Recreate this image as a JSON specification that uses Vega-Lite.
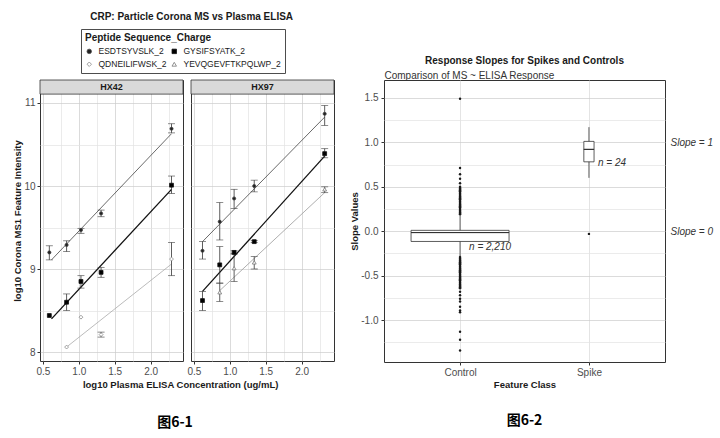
{
  "$schema": "https://vega.github.io/schema/vega-lite/v6.json",
  "padding": {"left": 12, "top": 12, "right": 2, "bottom": 0},
  "config": {
    "font": "Liberation Sans",
    "view": {"stroke": "#333333", "strokeWidth": 1},
    "axis": {
      "labelFontSize": 10, "labelColor": "#4d4d4d", "labelFlush": false,
      "titleFontSize": 9.5, "titleFontWeight": "bold", "titleColor": "#1a1a1a",
      "tickColor": "#333333", "tickSize": 3, "domain": false, "labelPadding": 2
    },
    "title": {"fontSize": 10, "fontWeight": "bold", "color": "#1a1a1a", "anchor": "middle"},
    "legend": {
      "orient": "none", "legendX": 41, "legendY": -51,
      "direction": "horizontal", "columns": 2, "titleOrient": "top",
      "strokeColor": "#4d4d4d", "padding": 4,
      "titleFontSize": 10, "titleFontWeight": "bold", "titleColor": "#1a1a1a",
      "labelFontSize": 8.5, "labelColor": "#1a1a1a", "labelOffset": 5,
      "symbolSize": 20, "symbolStrokeWidth": 0.8,
      "columnPadding": 3, "rowPadding": 4, "titlePadding": 4
    }
  },
  "datasets": {
    "means": [
      {"panel": "HX42", "peptide": "ESDTSYVSLK_2", "x": 0.59, "y": 9.20, "lo": 9.11, "hi": 9.28},
      {"panel": "HX42", "peptide": "ESDTSYVSLK_2", "x": 0.83, "y": 9.29, "lo": 9.21, "hi": 9.34},
      {"panel": "HX42", "peptide": "ESDTSYVSLK_2", "x": 1.03, "y": 9.47, "lo": 9.43, "hi": 9.49},
      {"panel": "HX42", "peptide": "ESDTSYVSLK_2", "x": 1.31, "y": 9.67, "lo": 9.63, "hi": 9.71},
      {"panel": "HX42", "peptide": "ESDTSYVSLK_2", "x": 2.29, "y": 10.69, "lo": 10.64, "hi": 10.75},
      {"panel": "HX42", "peptide": "GYSIFSYATK_2", "x": 0.59, "y": 8.44, "lo": null, "hi": null},
      {"panel": "HX42", "peptide": "GYSIFSYATK_2", "x": 0.83, "y": 8.60, "lo": 8.50, "hi": 8.70},
      {"panel": "HX42", "peptide": "GYSIFSYATK_2", "x": 1.03, "y": 8.85, "lo": 8.77, "hi": 8.92},
      {"panel": "HX42", "peptide": "GYSIFSYATK_2", "x": 1.31, "y": 8.96, "lo": 8.90, "hi": 9.02},
      {"panel": "HX42", "peptide": "GYSIFSYATK_2", "x": 2.29, "y": 10.01, "lo": 9.91, "hi": 10.12},
      {"panel": "HX42", "peptide": "QDNEILIFWSK_2", "x": 0.83, "y": 8.06, "lo": null, "hi": null},
      {"panel": "HX42", "peptide": "QDNEILIFWSK_2", "x": 1.03, "y": 8.42, "lo": null, "hi": null},
      {"panel": "HX42", "peptide": "QDNEILIFWSK_2", "x": 1.31, "y": 8.21, "lo": 8.18, "hi": 8.24},
      {"panel": "HX42", "peptide": "QDNEILIFWSK_2", "x": 2.29, "y": 9.12, "lo": 8.92, "hi": 9.32},
      {"panel": "HX97", "peptide": "ESDTSYVSLK_2", "x": 0.62, "y": 9.22, "lo": 9.12, "hi": 9.33},
      {"panel": "HX97", "peptide": "ESDTSYVSLK_2", "x": 0.86, "y": 9.57, "lo": 9.35, "hi": 9.80},
      {"panel": "HX97", "peptide": "ESDTSYVSLK_2", "x": 1.06, "y": 9.85, "lo": 9.73, "hi": 9.96},
      {"panel": "HX97", "peptide": "ESDTSYVSLK_2", "x": 1.34, "y": 10.00, "lo": 9.93, "hi": 10.07},
      {"panel": "HX97", "peptide": "ESDTSYVSLK_2", "x": 2.32, "y": 10.87, "lo": 10.73, "hi": 10.97},
      {"panel": "HX97", "peptide": "GYSIFSYATK_2", "x": 0.62, "y": 8.62, "lo": 8.50, "hi": 8.73},
      {"panel": "HX97", "peptide": "GYSIFSYATK_2", "x": 0.86, "y": 9.05, "lo": 8.83, "hi": 9.27},
      {"panel": "HX97", "peptide": "GYSIFSYATK_2", "x": 1.06, "y": 9.20, "lo": 9.18, "hi": 9.22},
      {"panel": "HX97", "peptide": "GYSIFSYATK_2", "x": 1.34, "y": 9.33, "lo": 9.32, "hi": 9.345},
      {"panel": "HX97", "peptide": "GYSIFSYATK_2", "x": 2.32, "y": 10.39, "lo": 10.34, "hi": 10.45},
      {"panel": "HX97", "peptide": "YEVQGEVFTKPQLWP_2", "x": 0.86, "y": 8.72, "lo": 8.61, "hi": 8.83},
      {"panel": "HX97", "peptide": "YEVQGEVFTKPQLWP_2", "x": 1.06, "y": 9.01, "lo": 8.85, "hi": 9.19},
      {"panel": "HX97", "peptide": "YEVQGEVFTKPQLWP_2", "x": 1.34, "y": 9.08, "lo": 9.00, "hi": 9.15},
      {"panel": "HX97", "peptide": "YEVQGEVFTKPQLWP_2", "x": 2.32, "y": 9.96, "lo": 9.92, "hi": 9.99}
    ],
    "fits": [
      {"panel": "HX42", "peptide": "ESDTSYVSLK_2", "x": 0.62, "y": 9.11},
      {"panel": "HX42", "peptide": "ESDTSYVSLK_2", "x": 2.29, "y": 10.63},
      {"panel": "HX42", "peptide": "GYSIFSYATK_2", "x": 0.62, "y": 8.40},
      {"panel": "HX42", "peptide": "GYSIFSYATK_2", "x": 2.29, "y": 9.96},
      {"panel": "HX42", "peptide": "QDNEILIFWSK_2", "x": 0.83, "y": 8.06},
      {"panel": "HX42", "peptide": "QDNEILIFWSK_2", "x": 2.29, "y": 9.06},
      {"panel": "HX97", "peptide": "ESDTSYVSLK_2", "x": 0.62, "y": 9.33},
      {"panel": "HX97", "peptide": "ESDTSYVSLK_2", "x": 2.32, "y": 10.83},
      {"panel": "HX97", "peptide": "GYSIFSYATK_2", "x": 0.62, "y": 8.73},
      {"panel": "HX97", "peptide": "GYSIFSYATK_2", "x": 2.32, "y": 10.36},
      {"panel": "HX97", "peptide": "YEVQGEVFTKPQLWP_2", "x": 0.86, "y": 8.74},
      {"panel": "HX97", "peptide": "YEVQGEVFTKPQLWP_2", "x": 2.32, "y": 9.92}
    ],
    "strips": [{"panel": "HX42"}, {"panel": "HX97"}],
    "captions": [{"side": "left", "caption": "图6-1"}, {"side": "right", "caption": "图6-2"}],
    "boxes": [
      {"class": "Control", "lw": -0.29, "q1": -0.115, "median": -0.015, "q3": 0.01, "uw": 0.18, "n": 2210, "label": "n = 2,210"},
      {"class": "Spike", "lw": 0.60, "q1": 0.78, "median": 0.92, "q3": 1.01, "uw": 1.17, "n": 24, "label": "n = 24"}
    ],
    "outliers": [
      {"class": "Control", "slope": 1.49}, {"class": "Control", "slope": 0.71}, {"class": "Control", "slope": 0.64},
      {"class": "Control", "slope": 0.59}, {"class": "Control", "slope": 0.54}, {"class": "Control", "slope": 0.50},
      {"class": "Control", "slope": 0.49}, {"class": "Control", "slope": 0.48}, {"class": "Control", "slope": 0.47},
      {"class": "Control", "slope": 0.46}, {"class": "Control", "slope": 0.45}, {"class": "Control", "slope": 0.44},
      {"class": "Control", "slope": 0.43}, {"class": "Control", "slope": 0.42}, {"class": "Control", "slope": 0.41},
      {"class": "Control", "slope": 0.40}, {"class": "Control", "slope": 0.39}, {"class": "Control", "slope": 0.38},
      {"class": "Control", "slope": 0.37}, {"class": "Control", "slope": 0.36}, {"class": "Control", "slope": 0.35},
      {"class": "Control", "slope": 0.34}, {"class": "Control", "slope": 0.33}, {"class": "Control", "slope": 0.32},
      {"class": "Control", "slope": 0.31}, {"class": "Control", "slope": 0.30}, {"class": "Control", "slope": 0.29},
      {"class": "Control", "slope": 0.28}, {"class": "Control", "slope": 0.27}, {"class": "Control", "slope": 0.26},
      {"class": "Control", "slope": 0.25}, {"class": "Control", "slope": 0.24}, {"class": "Control", "slope": 0.23},
      {"class": "Control", "slope": 0.22}, {"class": "Control", "slope": 0.21}, {"class": "Control", "slope": 0.20},
      {"class": "Control", "slope": 0.19},
      {"class": "Control", "slope": -0.29}, {"class": "Control", "slope": -0.30}, {"class": "Control", "slope": -0.31},
      {"class": "Control", "slope": -0.32}, {"class": "Control", "slope": -0.33}, {"class": "Control", "slope": -0.34},
      {"class": "Control", "slope": -0.35}, {"class": "Control", "slope": -0.36}, {"class": "Control", "slope": -0.37},
      {"class": "Control", "slope": -0.38}, {"class": "Control", "slope": -0.39}, {"class": "Control", "slope": -0.40},
      {"class": "Control", "slope": -0.41}, {"class": "Control", "slope": -0.42}, {"class": "Control", "slope": -0.43},
      {"class": "Control", "slope": -0.44}, {"class": "Control", "slope": -0.45}, {"class": "Control", "slope": -0.46},
      {"class": "Control", "slope": -0.47}, {"class": "Control", "slope": -0.48}, {"class": "Control", "slope": -0.49},
      {"class": "Control", "slope": -0.50}, {"class": "Control", "slope": -0.51}, {"class": "Control", "slope": -0.52},
      {"class": "Control", "slope": -0.53}, {"class": "Control", "slope": -0.54}, {"class": "Control", "slope": -0.55},
      {"class": "Control", "slope": -0.56}, {"class": "Control", "slope": -0.57}, {"class": "Control", "slope": -0.58},
      {"class": "Control", "slope": -0.59}, {"class": "Control", "slope": -0.60}, {"class": "Control", "slope": -0.61},
      {"class": "Control", "slope": -0.62}, {"class": "Control", "slope": -0.63}, {"class": "Control", "slope": -0.64},
      {"class": "Control", "slope": -0.68}, {"class": "Control", "slope": -0.72}, {"class": "Control", "slope": -0.76},
      {"class": "Control", "slope": -0.79}, {"class": "Control", "slope": -0.85}, {"class": "Control", "slope": -0.89},
      {"class": "Control", "slope": -0.91}, {"class": "Control", "slope": -1.13}, {"class": "Control", "slope": -1.22},
      {"class": "Control", "slope": -1.34},
      {"class": "Spike", "slope": -0.03}
    ]
  },
  "spacing": 14,
  "hconcat": [
    {
      "spacing": 20,
      "vconcat": [
        {
          "title": {"text": "CRP: Particle Corona MS vs Plasma ELISA", "anchor": "middle", "offset": 57, "dx": 18},
          "vconcat": [
            {
              "title": {"text": "log10 Plasma ELISA Concentration (ug/mL)", "orient": "bottom", "anchor": "middle", "fontSize": 9.5, "offset": 3, "dx": 7},
              "spacing": 2,
              "hconcat": [
                {
                  "width": 143, "height": 281,
                  "resolve": {"axis": {"x": "independent", "y": "independent"}},
                  "layer": [
                    {
                      "data": {"name": "fits"},
                      "transform": [{"filter": "datum.panel == 'HX42'"}],
                      "mark": {"type": "line"},
                      "encoding": {
                        "x": {"field": "x", "type": "quantitative", "scale": {"domain": [0.46, 2.45], "nice": false, "zero": false},
                          "axis": {"title": null, "values": [0.5, 0.75, 1, 1.25, 1.5, 1.75, 2, 2.25],
                            "labelExpr": "abs(datum.value * 2 - round(datum.value * 2)) < 0.001 ? format(datum.value, '.1f') : ''",
                            "tickOpacity": {"condition": {"test": "abs(datum.value * 2 - round(datum.value * 2)) > 0.001", "value": 0}, "value": 1},
                            "gridColor": {"condition": {"test": "abs(datum.value * 2 - round(datum.value * 2)) > 0.001", "value": "#e3e3e3"}, "value": "#cccccc"},
                            "gridWidth": 0.7}},
                        "y": {"field": "y", "type": "quantitative", "scale": {"domain": [7.892, 11.277], "nice": false, "zero": false},
                          "axis": {"title": "log10 Corona MS1 Feature Intensity", "titlePadding": 1, "values": [8, 8.5, 9, 9.5, 10, 10.5, 11],
                            "labelExpr": "datum.value % 1 == 0 ? format(datum.value, 'd') : ''",
                            "tickOpacity": {"condition": {"test": "datum.value % 1 != 0", "value": 0}, "value": 1},
                            "gridColor": {"condition": {"test": "datum.value % 1 != 0", "value": "#e3e3e3"}, "value": "#cccccc"},
                            "gridWidth": 0.7}},
                        "detail": {"field": "peptide"},
                        "stroke": {"condition": [
                          {"test": "datum.peptide == 'GYSIFSYATK_2'", "value": "#111111"},
                          {"test": "datum.peptide == 'QDNEILIFWSK_2'", "value": "#aaaaaa"},
                          {"test": "datum.peptide == 'YEVQGEVFTKPQLWP_2'", "value": "#999999"}], "value": "#444444"},
                        "strokeWidth": {"condition": {"test": "datum.peptide == 'GYSIFSYATK_2'", "value": 1.3}, "value": 0.8}
                      }
                    },
                    {
                      "data": {"name": "means"},
                      "transform": [{"filter": "datum.panel == 'HX42'"}],
                      "mark": {"type": "errorbar", "ticks": true, "size": 7, "thickness": 0.8, "color": "#333333"},
                      "encoding": {
                        "x": {"field": "x", "type": "quantitative", "axis": null},
                        "y": {"field": "lo", "type": "quantitative", "axis": null},
                        "y2": {"field": "hi"}
                      }
                    },
                    {
                      "data": {"name": "means"},
                      "transform": [{"filter": "datum.panel == 'HX42'"}],
                      "mark": {"type": "point", "opacity": 1, "strokeWidth": 0.8},
                      "encoding": {
                        "x": {"field": "x", "type": "quantitative", "axis": null},
                        "y": {"field": "y", "type": "quantitative", "axis": null},
                        "fill": {"field": "peptide", "type": "nominal", "title": "Peptide Sequence_Charge",
                          "scale": {"domain": ["ESDTSYVSLK_2", "GYSIFSYATK_2", "QDNEILIFWSK_2", "YEVQGEVFTKPQLWP_2"], "range": ["#222222", "#000000", "#ffffff", "#ffffff"]}},
                        "stroke": {"field": "peptide", "type": "nominal", "title": "Peptide Sequence_Charge",
                          "scale": {"domain": ["ESDTSYVSLK_2", "GYSIFSYATK_2", "QDNEILIFWSK_2", "YEVQGEVFTKPQLWP_2"], "range": ["#444444", "#111111", "#888888", "#777777"]}},
                        "shape": {"field": "peptide", "type": "nominal", "title": "Peptide Sequence_Charge",
                          "scale": {"domain": ["ESDTSYVSLK_2", "GYSIFSYATK_2", "QDNEILIFWSK_2", "YEVQGEVFTKPQLWP_2"], "range": ["circle", "square", "diamond", "triangle-up"]}},
                        "size": {"condition": {"test": "datum.peptide == 'ESDTSYVSLK_2'", "value": 10}, "value": 15}
                      }
                    },
                    {
                      "data": {"name": "strips"},
                      "transform": [{"filter": "datum.panel == 'HX42'"}],
                      "mark": {"type": "rect", "fill": "#d9d9d9", "stroke": "#333333", "strokeWidth": 0.8},
                      "encoding": {
                        "y": {"datum": 11.107, "type": "quantitative", "axis": null},
                        "y2": {"datum": 11.277}
                      }
                    },
                    {
                      "data": {"name": "strips"},
                      "transform": [{"filter": "datum.panel == 'HX42'"}],
                      "mark": {"type": "text", "fontWeight": "bold", "fontSize": 9, "color": "#1a1a1a"},
                      "encoding": {
                        "y": {"datum": 11.192, "type": "quantitative", "axis": null},
                        "text": {"field": "panel"}
                      }
                    }
                  ]
                },
                {
                  "width": 143, "height": 281,
                  "resolve": {"axis": {"x": "independent", "y": "independent"}},
                  "layer": [
                    {
                      "data": {"name": "fits"},
                      "transform": [{"filter": "datum.panel == 'HX97'"}],
                      "mark": {"type": "line"},
                      "encoding": {
                        "x": {"field": "x", "type": "quantitative", "scale": {"domain": [0.46, 2.45], "nice": false, "zero": false},
                          "axis": {"title": null, "values": [0.5, 0.75, 1, 1.25, 1.5, 1.75, 2, 2.25],
                            "labelExpr": "abs(datum.value * 2 - round(datum.value * 2)) < 0.001 ? format(datum.value, '.1f') : ''",
                            "tickOpacity": {"condition": {"test": "abs(datum.value * 2 - round(datum.value * 2)) > 0.001", "value": 0}, "value": 1},
                            "gridColor": {"condition": {"test": "abs(datum.value * 2 - round(datum.value * 2)) > 0.001", "value": "#e3e3e3"}, "value": "#cccccc"},
                            "gridWidth": 0.7}},
                        "y": {"field": "y", "type": "quantitative", "scale": {"domain": [7.892, 11.277], "nice": false, "zero": false},
                          "axis": {"title": null, "labels": false, "ticks": false, "values": [8, 8.5, 9, 9.5, 10, 10.5, 11],
                            "gridColor": {"condition": {"test": "datum.value % 1 != 0", "value": "#e3e3e3"}, "value": "#cccccc"},
                            "gridWidth": 0.7}},
                        "detail": {"field": "peptide"},
                        "stroke": {"condition": [
                          {"test": "datum.peptide == 'GYSIFSYATK_2'", "value": "#111111"},
                          {"test": "datum.peptide == 'QDNEILIFWSK_2'", "value": "#aaaaaa"},
                          {"test": "datum.peptide == 'YEVQGEVFTKPQLWP_2'", "value": "#999999"}], "value": "#444444"},
                        "strokeWidth": {"condition": {"test": "datum.peptide == 'GYSIFSYATK_2'", "value": 1.3}, "value": 0.8}
                      }
                    },
                    {
                      "data": {"name": "means"},
                      "transform": [{"filter": "datum.panel == 'HX97'"}],
                      "mark": {"type": "errorbar", "ticks": true, "size": 7, "thickness": 0.8, "color": "#333333"},
                      "encoding": {
                        "x": {"field": "x", "type": "quantitative", "axis": null},
                        "y": {"field": "lo", "type": "quantitative", "axis": null},
                        "y2": {"field": "hi"}
                      }
                    },
                    {
                      "data": {"name": "means"},
                      "transform": [{"filter": "datum.panel == 'HX97'"}],
                      "mark": {"type": "point", "opacity": 1, "strokeWidth": 0.8},
                      "encoding": {
                        "x": {"field": "x", "type": "quantitative", "axis": null},
                        "y": {"field": "y", "type": "quantitative", "axis": null},
                        "fill": {"field": "peptide", "type": "nominal", "title": "Peptide Sequence_Charge",
                          "scale": {"domain": ["ESDTSYVSLK_2", "GYSIFSYATK_2", "QDNEILIFWSK_2", "YEVQGEVFTKPQLWP_2"], "range": ["#222222", "#000000", "#ffffff", "#ffffff"]}},
                        "stroke": {"field": "peptide", "type": "nominal", "title": "Peptide Sequence_Charge",
                          "scale": {"domain": ["ESDTSYVSLK_2", "GYSIFSYATK_2", "QDNEILIFWSK_2", "YEVQGEVFTKPQLWP_2"], "range": ["#444444", "#111111", "#888888", "#777777"]}},
                        "shape": {"field": "peptide", "type": "nominal", "title": "Peptide Sequence_Charge",
                          "scale": {"domain": ["ESDTSYVSLK_2", "GYSIFSYATK_2", "QDNEILIFWSK_2", "YEVQGEVFTKPQLWP_2"], "range": ["circle", "square", "diamond", "triangle-up"]}},
                        "size": {"condition": {"test": "datum.peptide == 'ESDTSYVSLK_2'", "value": 10}, "value": 15}
                      }
                    },
                    {
                      "data": {"name": "strips"},
                      "transform": [{"filter": "datum.panel == 'HX97'"}],
                      "mark": {"type": "rect", "fill": "#d9d9d9", "stroke": "#333333", "strokeWidth": 0.8},
                      "encoding": {
                        "y": {"datum": 11.107, "type": "quantitative", "axis": null},
                        "y2": {"datum": 11.277}
                      }
                    },
                    {
                      "data": {"name": "strips"},
                      "transform": [{"filter": "datum.panel == 'HX97'"}],
                      "mark": {"type": "text", "fontWeight": "bold", "fontSize": 9, "color": "#1a1a1a"},
                      "encoding": {
                        "y": {"datum": 11.192, "type": "quantitative", "axis": null},
                        "text": {"field": "panel"}
                      }
                    }
                  ]
                }
              ]
            }
          ]
        },
        {
          "width": 270, "height": 28,
          "view": {"stroke": null},
          "data": {"name": "captions"},
          "transform": [{"filter": "datum.side == 'left'"}],
          "mark": {"type": "text", "font": "Noto Sans CJK SC", "fontWeight": "bold", "fontSize": 14, "color": "#000000"},
          "encoding": {"text": {"field": "caption"}}
        }
      ]
    },
    {
      "spacing": 18,
      "vconcat": [
        {
          "width": 281, "height": 282,
          "title": {"text": "Response Slopes for Spikes and Controls", "offset": 4},
          "resolve": {"axis": {"x": "independent", "y": "independent"}},
          "layer": [
            {
              "data": {"name": "outliers"},
              "mark": {"type": "point", "filled": true, "color": "#1a1a1a", "size": 6, "opacity": 1},
              "encoding": {
                "x": {"field": "class", "type": "nominal", "scale": {"type": "point", "padding": 0.59, "domain": ["Control", "Spike"]},
                  "axis": {"title": "Feature Class", "labelAngle": 0, "grid": true, "gridColor": "#d9d9d9", "gridWidth": 0.7, "titlePadding": 2}},
                "y": {"field": "slope", "type": "quantitative", "scale": {"domain": [-1.47, 1.70], "nice": false, "zero": false},
                  "axis": {"title": "Slope Values", "titlePadding": 1, "labelPadding": 3,
                    "values": [-1.25, -1, -0.75, -0.5, -0.25, 0, 0.25, 0.5, 0.75, 1, 1.25, 1.5],
                    "labelExpr": "abs(datum.value * 2 - round(datum.value * 2)) < 0.001 ? replace(format(datum.value, '.1f'), '\u2212', '-') : ''",
                    "tickOpacity": {"condition": {"test": "abs(datum.value * 2 - round(datum.value * 2)) > 0.001", "value": 0}, "value": 1},
                    "gridColor": {"condition": {"test": "abs(datum.value * 2 - round(datum.value * 2)) > 0.001", "value": "#e3e3e3"}, "value": "#cccccc"},
                    "gridWidth": 0.7}}
              }
            },
            {
              "data": {"name": "boxes"},
              "mark": {"type": "rule", "color": "#333333", "strokeWidth": 0.8},
              "encoding": {
                "x": {"field": "class", "type": "nominal",
                  "axis": {"orient": "top", "title": "Comparison of MS ~ ELISA Response", "titleAnchor": "start", "titleFontWeight": "normal",
                    "titleFontSize": 10, "titleColor": "#333333", "labels": false, "ticks": false, "grid": false, "titlePadding": 0}},
                "y": {"field": "lw", "type": "quantitative", "axis": null},
                "y2": {"field": "uw"}
              }
            },
            {
              "data": {"name": "boxes"},
              "mark": {"type": "bar", "fill": "#ffffff", "stroke": "#333333", "strokeWidth": 0.8},
              "encoding": {
                "x": {"field": "class", "type": "nominal", "axis": null},
                "y": {"field": "q1", "type": "quantitative", "axis": null},
                "y2": {"field": "q3"},
                "size": {"field": "n", "type": "quantitative", "legend": null, "scale": {"type": "sqrt", "domain": [0, 2210], "range": [0, 98]}}
              }
            },
            {
              "data": {"name": "boxes"},
              "mark": {"type": "bar", "fillOpacity": 0, "stroke": "#333333", "strokeWidth": 1},
              "encoding": {
                "x": {"field": "class", "type": "nominal", "axis": null},
                "y": {"field": "median", "type": "quantitative", "axis": null},
                "y2": {"field": "median"},
                "size": {"field": "n", "type": "quantitative", "legend": null}
              }
            },
            {
              "data": {"name": "boxes"},
              "mark": {"type": "text", "align": "left", "dx": 9, "dy": 14, "fontStyle": "italic", "fontSize": 10, "color": "#333333"},
              "encoding": {
                "x": {"field": "class", "type": "nominal", "axis": null},
                "y": {"field": "median", "type": "quantitative",
                  "axis": {"orient": "right", "values": [0, 1], "labelExpr": "'Slope = ' + datum.value", "labelFontStyle": "italic",
                    "labelFontSize": 10, "labelColor": "#333333", "ticks": false, "grid": false, "title": null, "labelPadding": 5}},
                "text": {"field": "label"}
              }
            }
          ]
        },
        {
          "width": 281, "height": 28,
          "view": {"stroke": null},
          "data": {"name": "captions"},
          "transform": [{"filter": "datum.side == 'right'"}],
          "mark": {"type": "text", "font": "Noto Sans CJK SC", "fontWeight": "bold", "fontSize": 14, "color": "#000000"},
          "encoding": {"text": {"field": "caption"}}
        }
      ]
    }
  ]
}
